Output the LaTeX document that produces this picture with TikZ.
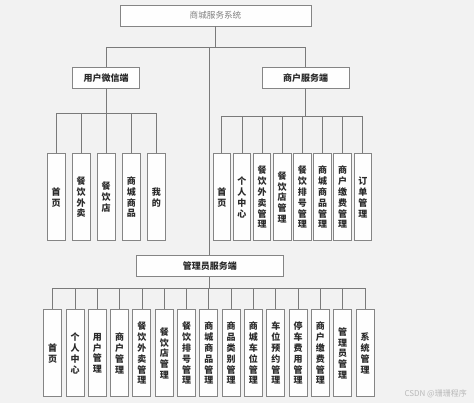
\documentclass[tikz,border=0pt]{standalone}
\usepackage{fontspec}
\newfontfamily\cjk{Noto Sans CJK SC}
\definecolor{bg}{HTML}{F2F2F2}
\definecolor{ln}{HTML}{7A7A7A}
\definecolor{bx}{HTML}{858585}
\definecolor{tx}{HTML}{2A2A2A}
\begin{document}
\begin{tikzpicture}[x=1pt,y=-1pt,
  hbox/.style={draw=bx,line width=0.9pt,fill=white!96!bg,inner sep=0pt,
    font=\cjk\bfseries\fontsize{9}{10}\selectfont,text=tx},
  leaf/.style={draw=bx,line width=0.9pt,fill=white!96!bg,inner sep=0pt,
    minimum height=86.7pt,minimum width=18pt,align=center,
    font=\cjk\bfseries\fontsize{9}{10.8}\selectfont,text=tx},
  conn/.style={draw=ln,line width=0.8pt}]
\fill[bg] (0,0) rectangle (474,403);
\useasboundingbox (0,0) rectangle (474,403);
% top
\node[hbox,minimum width=191pt,minimum height=21pt,font=\cjk\fontsize{8.6}{10}\selectfont,text=gray] (top) at (215.5,15.5) {商城服务系统};
\node[hbox,minimum width=66.6pt,minimum height=20.6pt] (user) at (106,78) {用户微信端};
\node[hbox,minimum width=87pt,minimum height=20.6pt] (merch) at (305.5,78) {商户服务端};
\node[hbox,minimum width=147pt,minimum height=21pt] (admin) at (209.8,266.2) {管理员服务端};
\foreach \c in {user,merch,admin}
  \draw[conn] (top.south) -- ++(0,20.7) -| (\c.north);
% user leaves
\foreach \t [count=\i] in {首\\页,餐\\饮\\外\\卖,餐\\饮\\店,商\\城\\商\\品,我\\的}{
  \node[leaf] (u\i) at ({56+25.1*(\i-1)},197.3) {\t};
  \draw[conn] (user.south) -- ++(0,24.4) -| (u\i.north);
}
% merchant leaves
\foreach \t [count=\i] in {首\\页,个\\人\\中\\心,餐\\饮\\外\\卖\\管\\理,餐\\饮\\店\\管\\理,餐\\饮\\排\\号\\管\\理,商\\城\\商\\品\\管\\理,商\\户\\缴\\费\\管\\理,订\\单\\管\\理}{
  \node[leaf,minimum width=17.5pt] (m\i) at ({221.8+20.14*(\i-1)},197.3) {\t};
  \draw[conn] (merch.south) -- ++(0,27.4) -| (m\i.north);
}
% admin leaves
\foreach \t [count=\i] in {首\\页,个\\人\\中\\心,用\\户\\管\\理,商\\户\\管\\理,餐\\饮\\外\\卖\\管\\理,餐\\饮\\店\\管\\理,餐\\饮\\排\\号\\管\\理,商\\城\\商\\品\\管\\理,商\\品\\类\\别\\管\\理,商\\城\\车\\位\\管\\理,车\\位\\预\\约\\管\\理,停\\车\\费\\用\\管\\理,商\\户\\缴\\费\\管\\理,管\\理\\员\\管\\理,系\\统\\管\\理}{
  \node[leaf] (a\i) at ({52.7+22.31*(\i-1)},353.3) {\t};
  \draw[conn] (admin.south) -- ++(0,11.6) -| (a\i.north);
}
\node[font=\cjk\fontsize{8}{9}\selectfont,text=gray!55,anchor=east,inner sep=0pt] (wm) at (467,394) {CSDN @珊珊程序};
\end{tikzpicture}
\end{document}
